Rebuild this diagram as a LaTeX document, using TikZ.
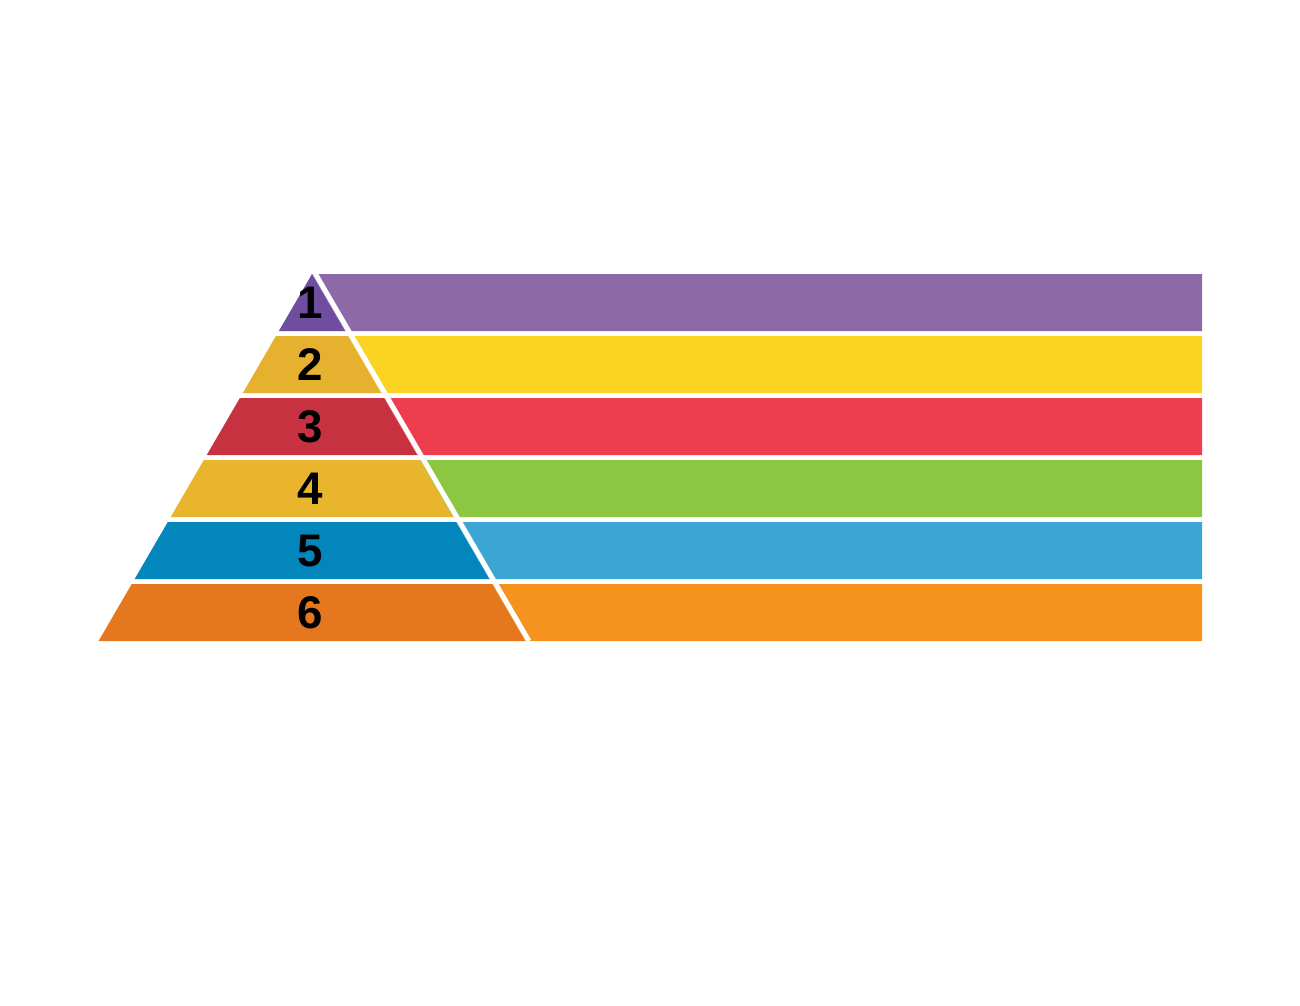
\documentclass[tikz,border=0pt]{standalone}
\usepackage{fontspec}
\setmainfont{Liberation Sans}
\usepackage{xcolor}
\usepackage{tikz}

% pyramid (left) and bar (right) colours
\definecolor{pyrA}{HTML}{6F4E9F}
\definecolor{pyrB}{HTML}{E6B12E}
\definecolor{pyrC}{HTML}{C83240}
\definecolor{pyrD}{HTML}{E9B52D}
\definecolor{pyrE}{HTML}{0386BC}
\definecolor{pyrF}{HTML}{E5781F}
\definecolor{barA}{HTML}{8D69A8}
\definecolor{barB}{HTML}{FBD323}
\definecolor{barC}{HTML}{EF3D50}
\definecolor{barD}{HTML}{8DC641}
\definecolor{barE}{HTML}{3BA5D3}
\definecolor{barF}{HTML}{F6931F}

\tikzset{
  num/.style={font=\fontsize{13}{15}\selectfont\bfseries, text=black, inner sep=0pt},
  cut/.style={white, line width=0.05cm}
}

\begin{document}
\begin{tikzpicture}[x=0.01cm,y=-0.01cm]
\useasboundingbox[fill=white] (0,0) rectangle (1300,1005);

%bandes de la pyramide et barres
\foreach \n/\cl/\cr in {1/pyrA/barA,2/pyrB/barB,3/pyrC/barC,4/pyrD/barD,5/pyrE/barE,6/pyrF/barF}
{
\pgfmathsetmacro{\yt}{274+62*(\n-1)}
\pgfmathsetmacro{\yb}{\yt+57}
\pgfmathsetmacro{\lt}{312-0.5815*(\yt-274)}
\pgfmathsetmacro{\lb}{312-0.5815*(\yb-274)}
\pgfmathsetmacro{\rt}{312+0.5815*(\yt-274)}
\pgfmathsetmacro{\rb}{312+0.5815*(\yb-274)}
\fill[\cl] (\lt,\yt) -- (\rt,\yt) -- (\rb,\yb) -- (\lb,\yb) -- cycle;
\fill[\cr] (\rt,\yt) -- (1202,\yt) -- (1202,\yb) -- (\rb,\yb) -- cycle;
\node[num] (n\n) at (310,\yt+29) {\n};
}

%trait blanc en diagonale
\draw[cut] (312,268) -- (528.9,641);

\end{tikzpicture}
\end{document}
